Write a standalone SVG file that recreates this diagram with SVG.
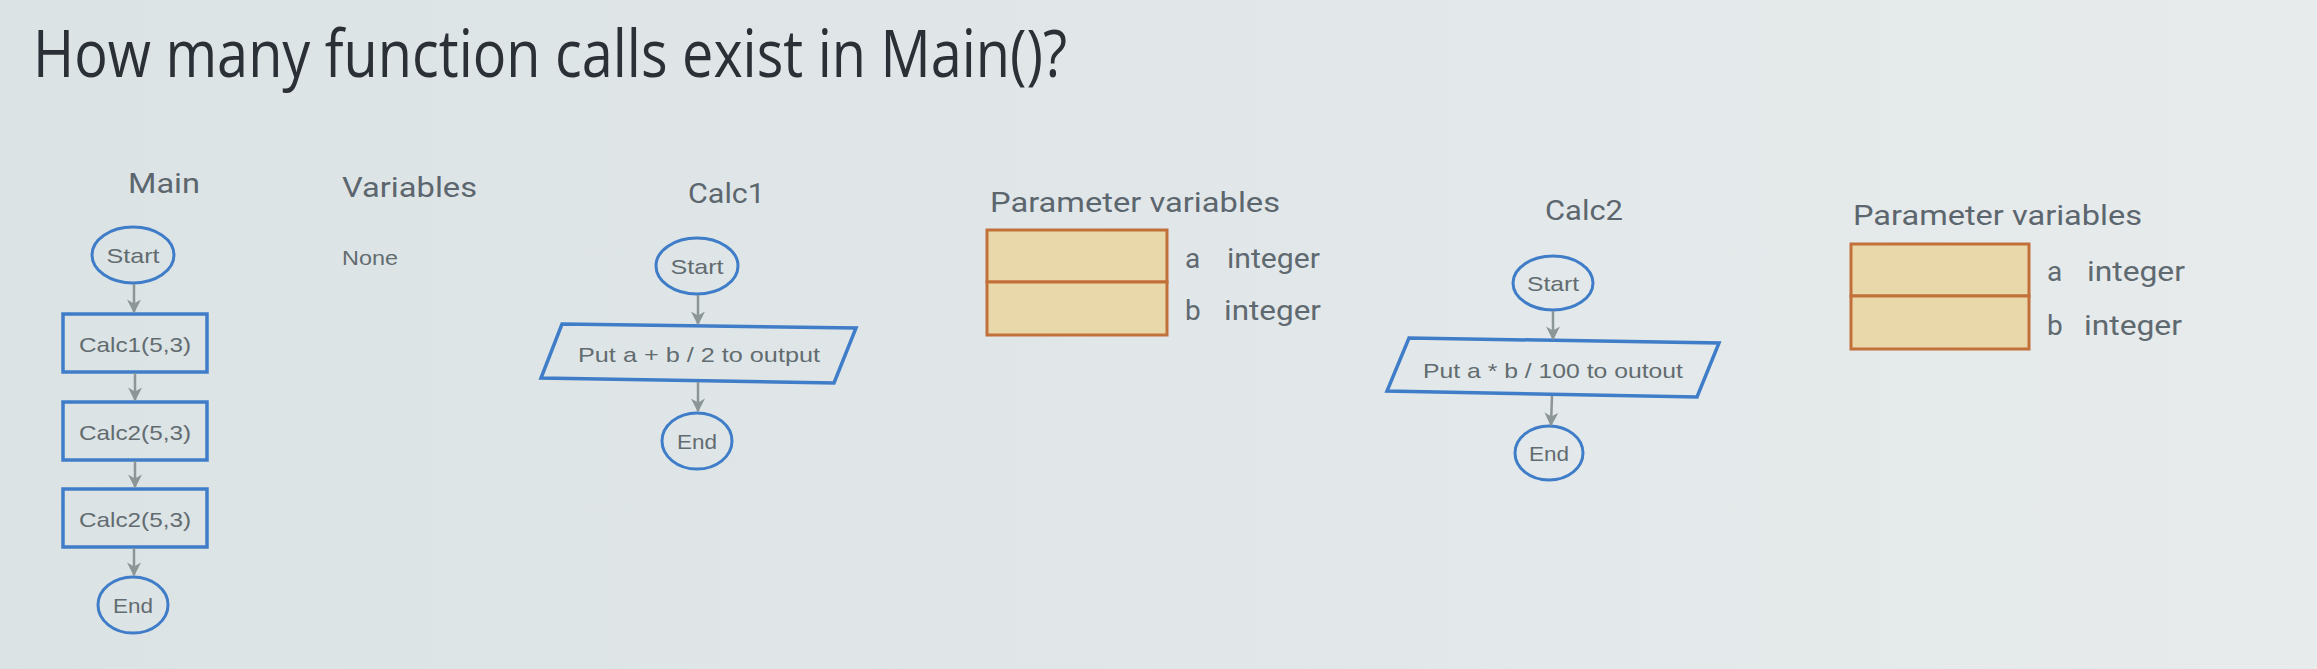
<svg xmlns="http://www.w3.org/2000/svg" width="2317" height="669" viewBox="0 0 2317 669">
<defs>
<linearGradient id="bg" x1="0" y1="0" x2="1" y2="0">
<stop offset="0" stop-color="#dce3e5"/>
<stop offset="0.5" stop-color="#e1e7e9"/>
<stop offset="1" stop-color="#e7ebec"/>
</linearGradient>
<marker id="arr" viewBox="0 0 10 10" refX="9" refY="5" markerWidth="14" markerHeight="14" markerUnits="userSpaceOnUse" orient="auto">
<path d="M0,0 L10,5 L0,10 L3,5 Z" fill="#8c9696"/>
</marker>
<style>
.title{font-family:"Open Sans","Liberation Sans",sans-serif;font-size:66px;fill:#2b3037}
.lbl{font-family:Roboto,"Liberation Sans",sans-serif;font-size:27px;fill:#5c666e}
.nt{font-family:"Liberation Sans",Arial,sans-serif;font-size:21px;fill:#626c70;text-anchor:middle}
.term{fill:none;stroke:#3f7dc8;stroke-width:3}
.proc{fill:none;stroke:#3f7dc8;stroke-width:3.5}
.par{fill:#e9d8a9;stroke:#c2703a;stroke-width:3}
.pt{font-family:Roboto,"Liberation Sans",sans-serif;font-size:28px;fill:#5f6970}
.conn line{stroke:#8c9696;stroke-width:2.5;marker-end:url(#arr)}
</style>
</defs>
<rect width="2317" height="669" fill="url(#bg)"/>

<text class="title" x="33" y="77" textLength="1034" lengthAdjust="spacingAndGlyphs">How many function calls exist in Main()?</text>

<g id="labels">
<text class="lbl" x="128" y="193" textLength="72" lengthAdjust="spacingAndGlyphs">Main</text>
<text class="lbl" x="342" y="197" textLength="135" lengthAdjust="spacingAndGlyphs">Variables</text>
<text class="lbl" x="688" y="203" textLength="77" lengthAdjust="spacingAndGlyphs">Calc1</text>
<text class="lbl" x="990" y="212" textLength="290" lengthAdjust="spacingAndGlyphs">Parameter variables</text>
<text class="lbl" x="1545" y="220" textLength="78" lengthAdjust="spacingAndGlyphs">Calc2</text>
<text class="lbl" x="1853" y="225" textLength="289" lengthAdjust="spacingAndGlyphs">Parameter variables</text>
<text class="nt" x="370" y="265" style="font-size:20px" textLength="56" lengthAdjust="spacingAndGlyphs">None</text>
</g>

<g id="main-start">
<ellipse class="term" cx="133" cy="255" rx="41" ry="28"/>
<text class="nt" x="133" y="263" textLength="53" lengthAdjust="spacingAndGlyphs">Start</text>
</g>
<g id="main-calc1">
<rect class="proc" x="63" y="314" width="144" height="58"/>
<text class="nt" x="135" y="352" textLength="112" lengthAdjust="spacingAndGlyphs">Calc1(5,3)</text>
</g>
<g id="main-calc2a">
<rect class="proc" x="63" y="402" width="144" height="58"/>
<text class="nt" x="135" y="440" textLength="112" lengthAdjust="spacingAndGlyphs">Calc2(5,3)</text>
</g>
<g id="main-calc2b">
<rect class="proc" x="63" y="489" width="144" height="58"/>
<text class="nt" x="135" y="527" textLength="112" lengthAdjust="spacingAndGlyphs">Calc2(5,3)</text>
</g>
<g id="main-end">
<ellipse class="term" cx="133" cy="605" rx="35" ry="28"/>
<text class="nt" x="133" y="613" textLength="40" lengthAdjust="spacingAndGlyphs">End</text>
</g>

<g id="calc1-start">
<ellipse class="term" cx="697" cy="266" rx="41" ry="28"/>
<text class="nt" x="697" y="274" textLength="53" lengthAdjust="spacingAndGlyphs">Start</text>
</g>
<g id="calc1-output">
<polygon class="proc" points="562,324 856,328 834,383 541,378"/>
<text class="nt" x="699" y="362" textLength="242" lengthAdjust="spacingAndGlyphs">Put a + b / 2 to output</text>
</g>
<g id="calc1-end">
<ellipse class="term" cx="697" cy="441" rx="35" ry="28"/>
<text class="nt" x="697" y="449" textLength="40" lengthAdjust="spacingAndGlyphs">End</text>
</g>

<g id="params1">
<rect class="par" x="987" y="230" width="180" height="52"/>
<rect class="par" x="987" y="282" width="180" height="53"/>
<text class="pt" x="1185" y="268">a</text>
<text class="pt" x="1227" y="268" textLength="93" lengthAdjust="spacingAndGlyphs">integer</text>
<text class="pt" x="1185" y="320">b</text>
<text class="pt" x="1224" y="320" textLength="97" lengthAdjust="spacingAndGlyphs">integer</text>
</g>

<g id="calc2-start">
<ellipse class="term" cx="1553" cy="283" rx="40" ry="27"/>
<text class="nt" x="1553" y="291" textLength="52" lengthAdjust="spacingAndGlyphs">Start</text>
</g>
<g id="calc2-output">
<polygon class="proc" points="1409,338 1719,343 1697,397 1387,391"/>
<text class="nt" x="1553" y="378" textLength="260" lengthAdjust="spacingAndGlyphs">Put a * b / 100 to outout</text>
</g>
<g id="calc2-end">
<ellipse class="term" cx="1549" cy="453" rx="34" ry="27"/>
<text class="nt" x="1549" y="461" textLength="40" lengthAdjust="spacingAndGlyphs">End</text>
</g>

<g id="params2">
<rect class="par" x="1851" y="244" width="178" height="52"/>
<rect class="par" x="1851" y="296" width="178" height="53"/>
<text class="pt" x="2047" y="281">a</text>
<text class="pt" x="2087" y="281" textLength="98" lengthAdjust="spacingAndGlyphs">integer</text>
<text class="pt" x="2047" y="335">b</text>
<text class="pt" x="2084" y="335" textLength="98" lengthAdjust="spacingAndGlyphs">integer</text>
</g>

<g id="connectors" class="conn">
<line x1="134" y1="284" x2="134" y2="312"/>
<line x1="135" y1="373" x2="135" y2="400"/>
<line x1="135" y1="461" x2="135" y2="487"/>
<line x1="134" y1="548" x2="134" y2="575"/>
<line x1="698" y1="295" x2="698" y2="324"/>
<line x1="698" y1="382" x2="698" y2="411"/>
<line x1="1553" y1="311" x2="1553" y2="339"/>
<line x1="1552" y1="396" x2="1551" y2="425"/>
</g>
</svg>
